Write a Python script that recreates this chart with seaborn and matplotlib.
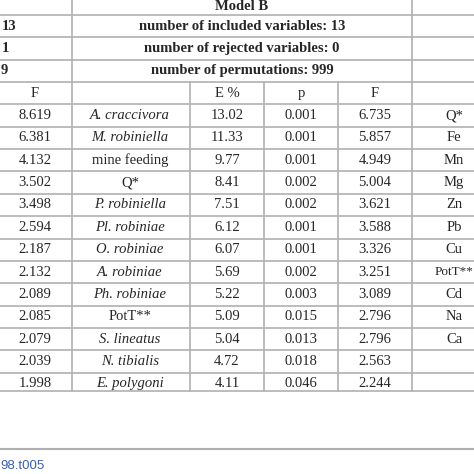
import matplotlib
matplotlib.use("Agg")
import matplotlib.pyplot as plt
import seaborn as sns

sns.set_theme(style="white")
plt.rcParams['font.family'] = ['Liberation Serif', 'DejaVu Serif']

# table content (cropped view of the original table)
left_f = ["8.619", "6.381", "4.132", "3.502", "3.498", "2.594", "2.187",
          "2.132", "2.089", "2.085", "2.079", "2.039", "1.998"]
species = ["A. craccivora", "M. robiniella", "mine feeding", "Q*", "P. robiniella",
           "Pl. robiniae", "O. robiniae", "A. robiniae", "Ph. robiniae", "PotT**",
           "S. lineatus", "N. tibialis", "E. polygoni"]
e_pct = ["13.02", "11.33", "9.77", "8.41", "7.51", "6.12", "6.07",
         "5.69", "5.22", "5.09", "5.04", "4.72", "4.11"]
p_val = ["0.001", "0.001", "0.001", "0.002", "0.002", "0.001", "0.001",
         "0.002", "0.003", "0.015", "0.013", "0.018", "0.046"]
right_f = ["6.735", "5.857", "4.949", "5.004", "3.621", "3.588", "3.326",
           "3.251", "3.089", "2.796", "2.796", "2.563", "2.244"]
right_var = ["Q*", "Fe", "Mn", "Mg", "Zn", "Pb", "Cu", "PotT**", "Cd", "Na", "Ca", "", ""]
italic_rows = {0, 1, 4, 5, 6, 7, 8, 10, 11, 12}
header_info = [("Model B", ""), ("number of included variables: 13", "13"),
               ("number of rejected variables: 0", "1"),
               ("number of permutations: 999", "9")]

fig = plt.figure(figsize=(4.74, 4.74), dpi=100)
ax = fig.add_axes([0, 0, 1, 1])
ax.set_xlim(0, 474)
ax.set_ylim(474, 0)
ax.axis("off")

lc = "#b0b0b0"
row_h = 22.35
top = 15
# horizontal lines
ys = [top + i * row_h for i in range(17)] + [391]
for y in ys:
    ax.plot([0, 474], [y, y], color=lc, lw=1.2)
ax.plot([0, 474], [449, 449], color=lc, lw=1.5)
# vertical lines
for x in [72, 412]:
    ax.plot([x, x], [0, 391], color=lc, lw=1.2)
for x in [190, 264, 338]:
    ax.plot([x, x], [top + 3 * row_h, 391], color=lc, lw=1.2)

fs = 10.5
# header rows
for i, (mid, left) in enumerate(header_info):
    yc = top - 9 + i * row_h if i == 0 else top + (i - 0.5) * row_h
    ax.text(242, yc, mid, ha="center", va="center", fontsize=fs, fontweight="bold")
    if left:
        ax.text(2 if left != "9" else 0.5, yc, left, ha="left", va="center",
                fontsize=fs, fontweight="bold")

yh = top + 3.5 * row_h
for x, t in [(35, "F"), (227, "E %"), (301, "p"), (375, "F")]:
    ax.text(x, yh, t, ha="center", va="center", fontsize=fs)

for i in range(len(species)):
    yc = top + (4.5 + i) * row_h
    ax.text(35, yc, left_f[i], ha="center", va="center", fontsize=fs)
    ax.text(130, yc, species[i], ha="center", va="center", fontsize=fs,
            style="italic" if i in italic_rows else "normal")
    ax.text(227, yc, e_pct[i], ha="center", va="center", fontsize=fs)
    ax.text(301, yc, p_val[i], ha="center", va="center", fontsize=fs)
    ax.text(375, yc, right_f[i], ha="center", va="center", fontsize=fs)
    if right_var[i]:
        ax.text(454, yc, right_var[i], ha="center", va="center",
                fontsize=fs if len(right_var[i]) < 4 else 9.5)

ax.text(0, 466, "98.t005", ha="left", va="center", fontsize=9.5,
        color="#3a5fb0", family=["Liberation Sans", "DejaVu Sans"])

fig.savefig("out.png", dpi=100)
